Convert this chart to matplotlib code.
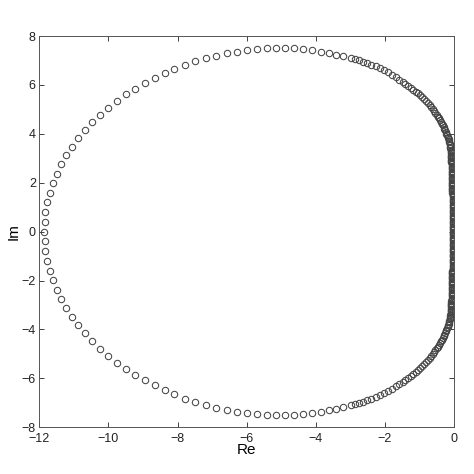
import matplotlib
matplotlib.use("Agg")
from matplotlib import pyplot as plt

plt.rcParams['font.family'] = ['Liberation Sans', 'DejaVu Sans']

# eigenvalues (Re, Im)
# points on the real axis
real_re = [-11.86, -0.03]
real_im = [0.0, 0.0]

# big open arc (Re shared by the upper and lower branch)
arc_re = [-11.85, -11.83, -11.78, -11.69, -11.61, -11.50, -11.37, -11.23, -11.06, -10.88,
          -10.68, -10.47, -10.24, -10.00, -9.75, -9.49, -9.22, -8.94, -8.66, -8.37,
          -8.09, -7.79, -7.49, -7.19, -6.89, -6.58, -6.28, -5.99, -5.69, -5.42,
          -5.15, -4.88, -4.62, -4.36, -4.11, -3.85, -3.63, -3.41, -3.20, -2.99]
arc_im_up = [0.40, 0.81, 1.20, 1.60, 1.99, 2.37, 2.76, 3.12, 3.48, 3.83,
             4.16, 4.49, 4.79, 5.07, 5.36, 5.62, 5.85, 6.08, 6.29, 6.49,
             6.65, 6.83, 6.97, 7.09, 7.20, 7.30, 7.36, 7.42, 7.47, 7.50,
             7.51, 7.51, 7.50, 7.47, 7.42, 7.36, 7.30, 7.24, 7.17, 7.09]
arc_im_low = [-0.40, -0.81, -1.20, -1.60, -1.99, -2.37, -2.76, -3.12, -3.48, -3.83,
              -4.16, -4.49, -4.79, -5.07, -5.36, -5.62, -5.85, -6.08, -6.29, -6.49,
              -6.65, -6.83, -6.97, -7.09, -7.20, -7.30, -7.36, -7.42, -7.47, -7.50,
              -7.51, -7.51, -7.50, -7.47, -7.42, -7.36, -7.30, -7.24, -7.17, -7.09]

# bend towards the imaginary axis, points get closer
bend_re = [-2.87, -2.75, -2.63, -2.51, -2.39, -2.27, -2.15, -2.03, -1.91, -1.79,
           -1.67, -1.58, -1.49, -1.41, -1.33, -1.25, -1.18, -1.11, -1.04, -0.98,
           -0.92, -0.86, -0.81, -0.76, -0.71, -0.66, -0.62, -0.58, -0.54, -0.50,
           -0.47, -0.44, -0.41, -0.38, -0.35, -0.33, -0.30, -0.28, -0.26, -0.24,
           -0.22, -0.20, -0.19, -0.17, -0.16, -0.15, -0.14, -0.13, -0.12, -0.112,
           -0.104, -0.097]
bend_im_up = [7.05, 7.00, 6.95, 6.89, 6.83, 6.76, 6.68, 6.60, 6.51, 6.42,
              6.31, 6.22, 6.13, 6.05, 5.97, 5.89, 5.81, 5.73, 5.65, 5.57,
              5.49, 5.41, 5.33, 5.25, 5.17, 5.09, 5.01, 4.93, 4.85, 4.77,
              4.70, 4.63, 4.56, 4.49, 4.42, 4.35, 4.28, 4.21, 4.14, 4.07,
              4.01, 3.95, 3.89, 3.83, 3.77, 3.71, 3.65, 3.59, 3.53, 3.47,
              3.41, 3.35]
bend_im_low = [-7.05, -7.00, -6.95, -6.89, -6.83, -6.76, -6.68, -6.60, -6.51, -6.42,
               -6.31, -6.22, -6.13, -6.05, -5.97, -5.89, -5.81, -5.73, -5.65, -5.57,
               -5.49, -5.41, -5.33, -5.25, -5.17, -5.09, -5.01, -4.93, -4.85, -4.77,
               -4.70, -4.63, -4.56, -4.49, -4.42, -4.35, -4.28, -4.21, -4.14, -4.07,
               -4.01, -3.95, -3.89, -3.83, -3.77, -3.71, -3.65, -3.59, -3.53, -3.47,
               -3.41, -3.35]

# dense column next to Re = 0
col_re = [-0.090, -0.088, -0.086, -0.084, -0.083, -0.081,
          -0.080, -0.078, -0.077, -0.075, -0.074, -0.072, -0.071,
          -0.070, -0.068, -0.067, -0.066, -0.065, -0.063, -0.062, -0.061,
          -0.060, -0.059, -0.058, -0.057, -0.056, -0.055, -0.054, -0.053, -0.052, -0.051,
          -0.050, -0.049, -0.048, -0.047, -0.046, -0.046, -0.045, -0.044, -0.043, -0.042, -0.042, -0.041,
          -0.040, -0.039, -0.039, -0.038, -0.037, -0.037, -0.036, -0.035, -0.035, -0.034, -0.034, -0.033,
          -0.033, -0.032, -0.032, -0.031, -0.031, -0.031, -0.030, -0.030, -0.030, -0.030, -0.030]
col_im_up = [3.30, 3.25, 3.20, 3.15, 3.10, 3.05,
             3.00, 2.95, 2.90, 2.85, 2.80, 2.75, 2.70,
             2.65, 2.60, 2.55, 2.50, 2.45, 2.40, 2.35, 2.30,
             2.25, 2.20, 2.15, 2.10, 2.05, 2.00, 1.95, 1.90, 1.85, 1.80,
             1.75, 1.70, 1.65, 1.60, 1.55, 1.50, 1.45, 1.40, 1.35, 1.30, 1.25, 1.20,
             1.15, 1.10, 1.05, 1.00, 0.95, 0.90, 0.85, 0.80, 0.75, 0.70, 0.65, 0.60,
             0.55, 0.50, 0.45, 0.40, 0.35, 0.30, 0.25, 0.20, 0.15, 0.10, 0.05]
col_im_low = [-3.30, -3.25, -3.20, -3.15, -3.10, -3.05,
              -3.00, -2.95, -2.90, -2.85, -2.80, -2.75, -2.70,
              -2.65, -2.60, -2.55, -2.50, -2.45, -2.40, -2.35, -2.30,
              -2.25, -2.20, -2.15, -2.10, -2.05, -2.00, -1.95, -1.90, -1.85, -1.80,
              -1.75, -1.70, -1.65, -1.60, -1.55, -1.50, -1.45, -1.40, -1.35, -1.30, -1.25, -1.20,
              -1.15, -1.10, -1.05, -1.00, -0.95, -0.90, -0.85, -0.80, -0.75, -0.70, -0.65, -0.60,
              -0.55, -0.50, -0.45, -0.40, -0.35, -0.30, -0.25, -0.20, -0.15, -0.10, -0.05]

xticks = [-12, -10, -8, -6, -4, -2, 0]
yticks = [-8, -6, -4, -2, 0, 2, 4, 6, 8]

fig = plt.figure(figsize=(4.74, 4.74), dpi=100)
ax = fig.add_axes([0.083, 0.0985, 0.875, 0.8255])

style = dict(ls='none', marker='o', ms=4.6, mfc='none', mec='#454545', mew=0.75)
for xs, ys in [(arc_re, arc_im_up), (arc_re, arc_im_low),
               (bend_re, bend_im_up), (bend_re, bend_im_low),
               (col_re, col_im_up), (col_re, col_im_low),
               (real_re, real_im)]:
    ln, = ax.plot(xs, ys, **style)
    ln.set_snap(False)

ax.set_xlim(-12, 0)
ax.set_ylim(-8, 8)
ax.set_xticks(xticks)
ax.set_yticks(yticks)
ax.set_xticklabels(['\u2212' + str(-t) if t < 0 else str(t) for t in xticks])
ax.set_yticklabels(['\u2212' + str(-t) if t < 0 else str(t) for t in yticks])
ax.tick_params(direction='in', top=True, right=True, length=3.5, width=0.6,
               labelsize=9, colors='#222222')
ax.tick_params(axis='x', pad=4)
ax.tick_params(axis='y', pad=2.5)
for s in ax.spines.values():
    s.set_linewidth(0.7)
    s.set_color('#555555')

ax.set_xlabel('Re', fontsize=11, labelpad=-1)
ax.set_ylabel('Im', fontsize=11, labelpad=1)

plt.savefig('out.png', dpi=100)
